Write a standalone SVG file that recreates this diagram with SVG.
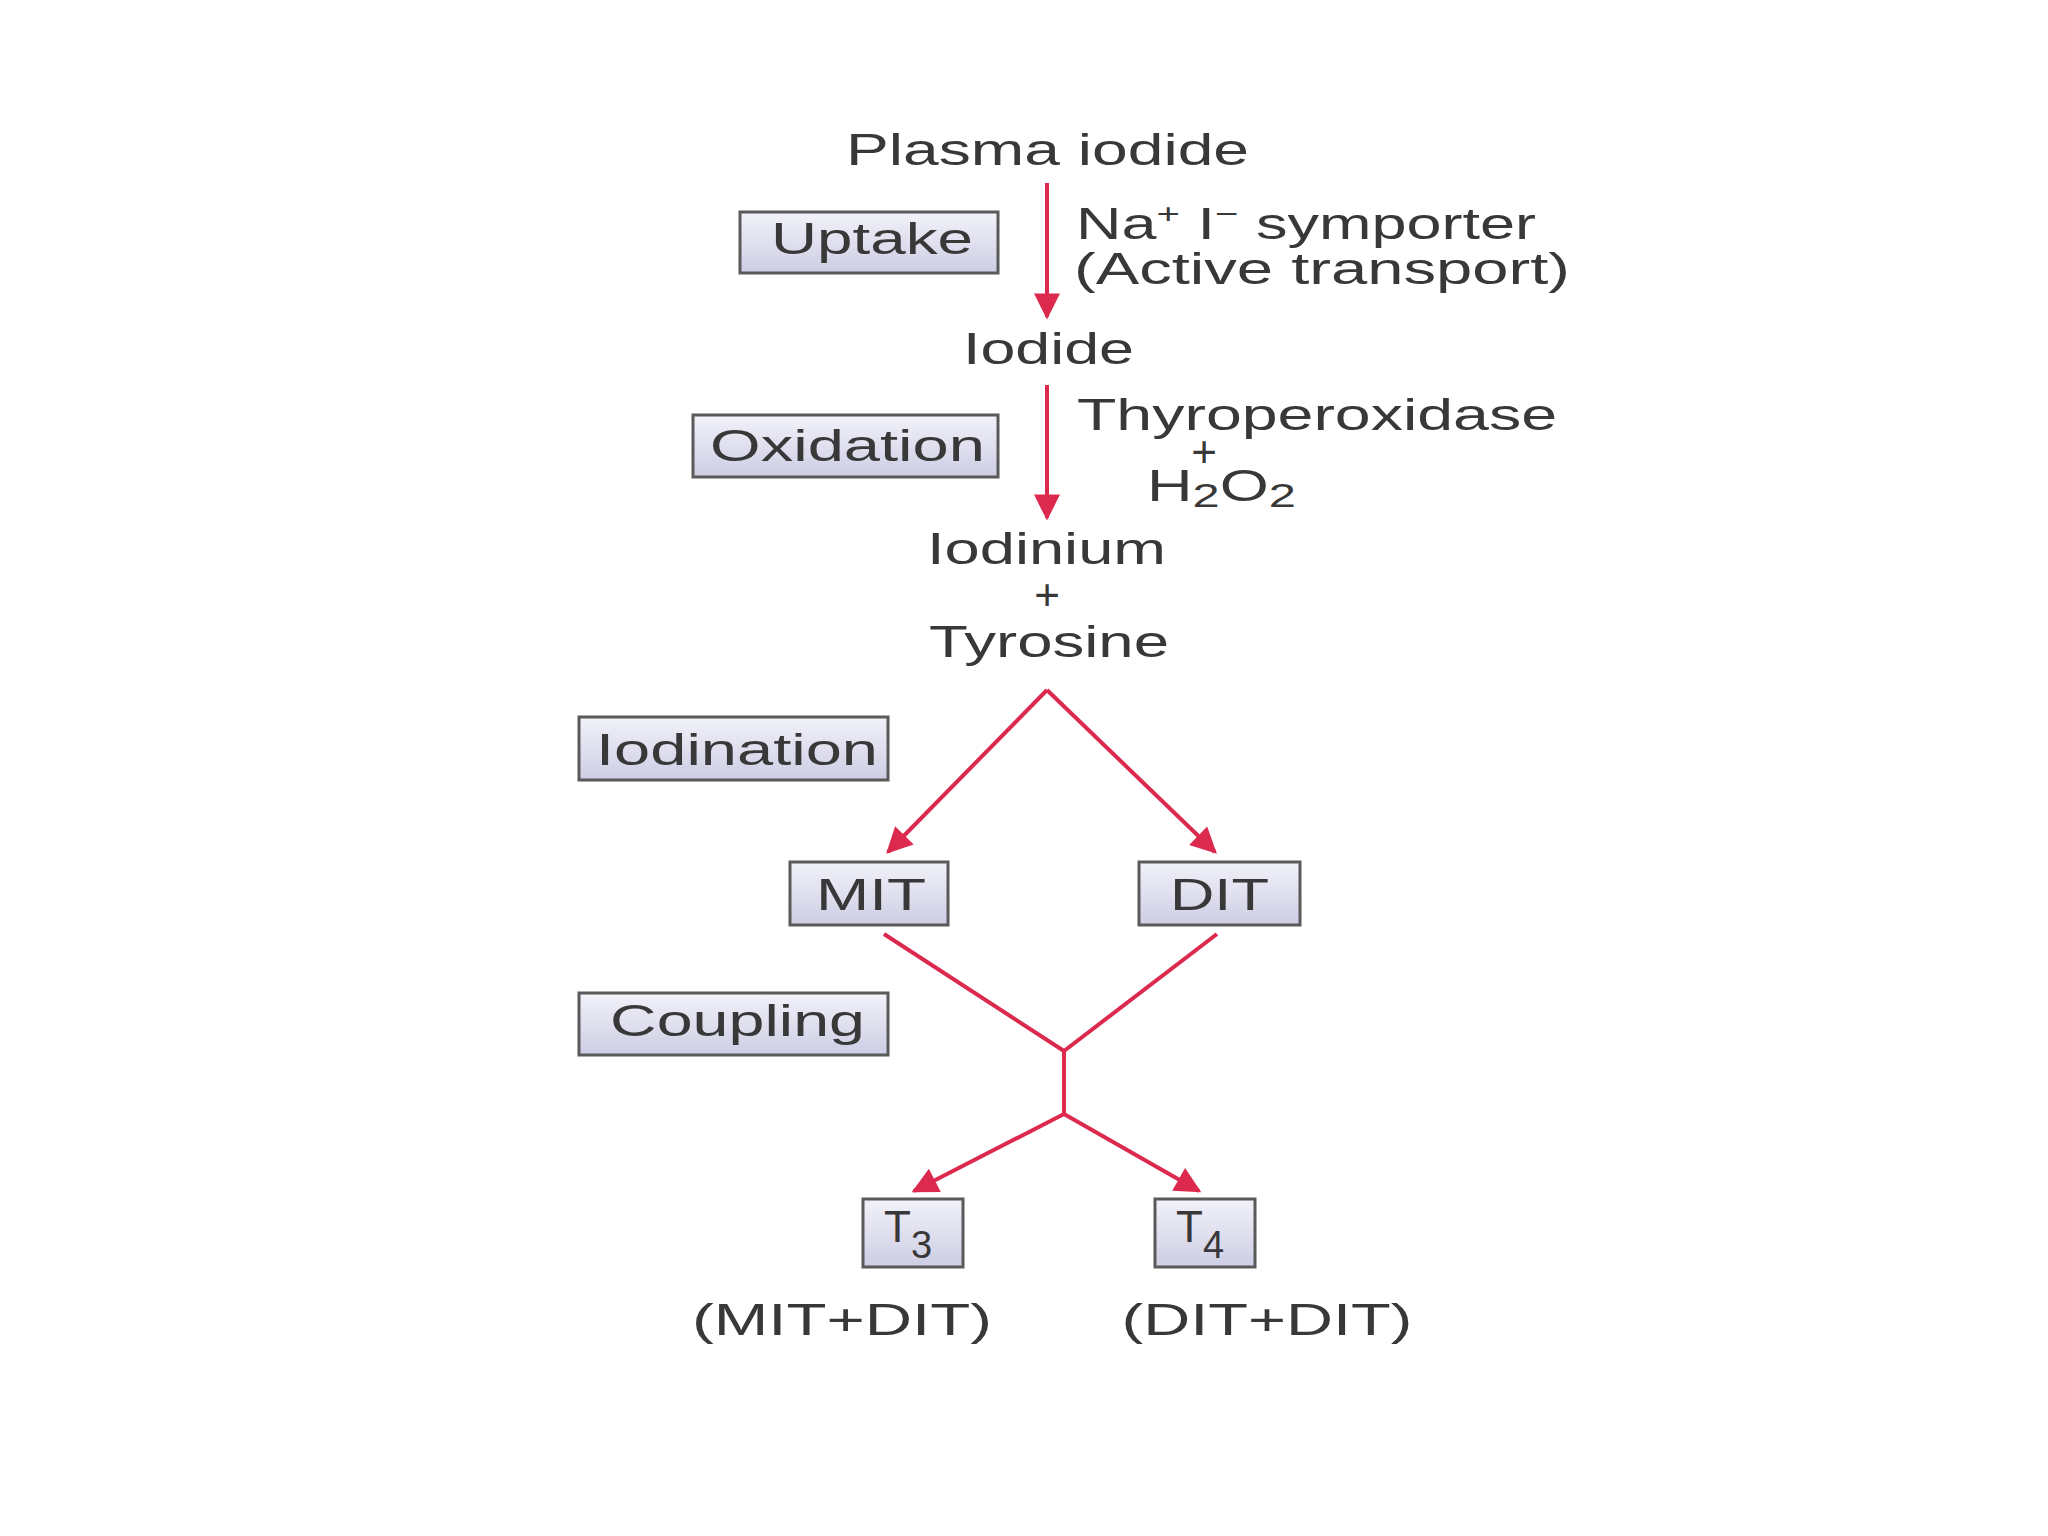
<svg xmlns="http://www.w3.org/2000/svg" width="2048" height="1536" viewBox="0 0 2048 1536">
<defs>
<linearGradient id="boxfill" x1="0" y1="0" x2="0" y2="1">
<stop offset="0" stop-color="#f2f2fa"/>
<stop offset="1" stop-color="#cdcde4"/>
</linearGradient>
<marker id="ah" viewBox="0 0 10 10" refX="9" refY="5" markerUnits="userSpaceOnUse" markerWidth="28" markerHeight="26" orient="auto">
<path d="M0,0 L10,5 L0,10 z" fill="#dc2a4e"/>
</marker>
</defs>
<style>
.t{font-family:"Liberation Sans",Arial,sans-serif;fill:#383838;font-size:44px}
.c{text-anchor:middle}
.box{fill:url(#boxfill);stroke:#5a5a5a;stroke-width:3}
.ln{stroke:#dc2a4e;stroke-width:4;fill:none;stroke-linejoin:round}
.arr{stroke:#dc2a4e;stroke-width:4;fill:none;marker-end:url(#ah)}
</style>
<rect width="2048" height="1536" fill="#ffffff"/>

<g id="connectors">
<line class="arr" x1="1047" y1="183" x2="1047" y2="317"/>
<line class="arr" x1="1047" y1="385" x2="1047" y2="518"/>
<line class="arr" x1="1047" y1="690" x2="888" y2="852"/>
<line class="arr" x1="1047" y1="690" x2="1215" y2="852"/>
<polyline class="ln" points="884,934 1064,1051 1217,934"/>
<line class="ln" x1="1064" y1="1051" x2="1064" y2="1114"/>
<line class="arr" x1="1064" y1="1114" x2="914" y2="1191"/>
<line class="arr" x1="1064" y1="1114" x2="1199" y2="1191"/>
</g>

<g id="plasma-iodide"><text class="t" x="846" y="165" textLength="403" lengthAdjust="spacingAndGlyphs">Plasma iodide</text></g>
<g id="uptake">
<rect class="box" x="740" y="212" width="258" height="61"/>
<text class="t" x="771" y="254" textLength="202" lengthAdjust="spacingAndGlyphs">Uptake</text>
</g>
<g id="symporter-label">
<text class="t" x="1076" y="239" textLength="460" lengthAdjust="spacingAndGlyphs">Na<tspan font-size="28" dy="-16">+</tspan><tspan dy="16"> I</tspan><tspan font-size="28" dy="-16">−</tspan><tspan dy="16"> symporter</tspan></text>
<text class="t" x="1074" y="284" textLength="496" lengthAdjust="spacingAndGlyphs">(Active transport)</text>
</g>
<g id="iodide"><text class="t" x="963" y="364" textLength="171" lengthAdjust="spacingAndGlyphs">Iodide</text></g>
<g id="oxidation">
<rect class="box" x="693" y="415" width="305" height="62"/>
<text class="t" x="710" y="461" textLength="275" lengthAdjust="spacingAndGlyphs">Oxidation</text>
</g>
<g id="enzyme-label">
<text class="t" x="1077" y="430" textLength="480" lengthAdjust="spacingAndGlyphs">Thyroperoxidase</text>
<text class="t" x="1204" y="467" font-size="24" text-anchor="middle">+</text>
<text class="t" x="1147" y="501" textLength="149" lengthAdjust="spacingAndGlyphs">H<tspan font-size="34" dy="6">2</tspan><tspan dy="-6">O</tspan><tspan font-size="34" dy="6">2</tspan></text>
</g>
<g id="iodinium-tyrosine">
<text class="t" x="927" y="564" textLength="239" lengthAdjust="spacingAndGlyphs">Iodinium</text>
<text class="t c" x="1047" y="610" font-size="32">+</text>
<text class="t" x="929" y="657" textLength="240" lengthAdjust="spacingAndGlyphs">Tyrosine</text>
</g>
<g id="iodination">
<rect class="box" x="579" y="717" width="309" height="63"/>
<text class="t" x="596" y="765" textLength="282" lengthAdjust="spacingAndGlyphs">Iodination</text>
</g>
<g id="mit">
<rect class="box" x="790" y="862" width="158" height="63"/>
<text class="t" x="816" y="910" textLength="110" lengthAdjust="spacingAndGlyphs">MIT</text>
</g>
<g id="dit">
<rect class="box" x="1139" y="862" width="161" height="63"/>
<text class="t" x="1170" y="910" textLength="99" lengthAdjust="spacingAndGlyphs">DIT</text>
</g>
<g id="coupling">
<rect class="box" x="579" y="993" width="309" height="62"/>
<text class="t" x="610" y="1036" textLength="255" lengthAdjust="spacingAndGlyphs">Coupling</text>
</g>
<g id="t3">
<rect class="box" x="863" y="1199" width="100" height="68"/>
<text class="t" x="884" y="1242" font-size="52">T<tspan font-size="38" dy="16">3</tspan></text>
<text class="t c" x="842" y="1335" textLength="300" lengthAdjust="spacingAndGlyphs">(MIT+DIT)</text>
</g>
<g id="t4">
<rect class="box" x="1155" y="1199" width="100" height="68"/>
<text class="t" x="1176" y="1242" font-size="52">T<tspan font-size="38" dy="16">4</tspan></text>
<text class="t c" x="1267" y="1335" textLength="291" lengthAdjust="spacingAndGlyphs">(DIT+DIT)</text>
</g>
</svg>
